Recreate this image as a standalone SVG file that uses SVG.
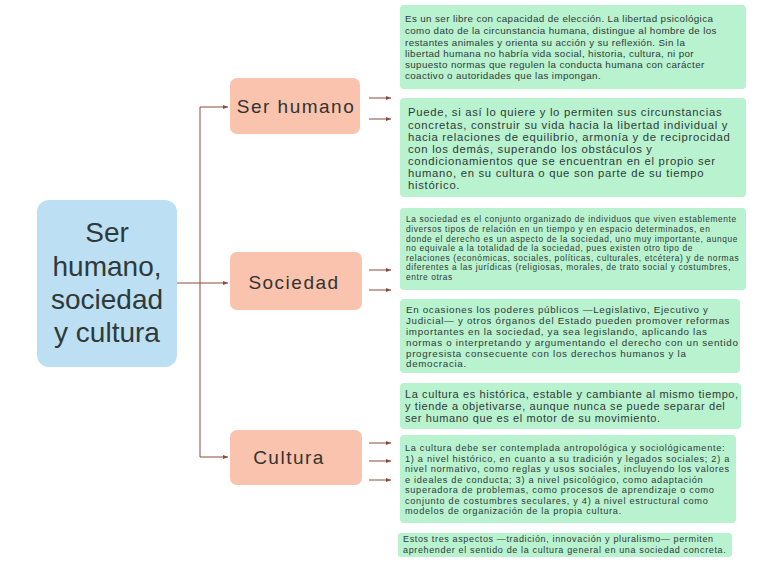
<svg xmlns="http://www.w3.org/2000/svg" width="768" height="576" viewBox="0 0 768 576">
<defs>
<marker id="ah" markerWidth="6" markerHeight="6" refX="5" refY="3" orient="auto" markerUnits="userSpaceOnUse"><path d="M0,1 L5,3 L0,5 z" fill="#8b4a3a"/></marker>
<style>
text{font-family:"Liberation Sans",Arial,sans-serif;fill:#2f3a38}
.g{fill:#b8f2cf}
.p{fill:#f9c3ad}
.c{stroke:#8b4a3a;stroke-width:1;fill:none}
.a{stroke:#8b4a3a;stroke-width:1;fill:none;marker-end:url(#ah)}
.t{font-size:19px;letter-spacing:1.5px;text-anchor:middle;fill:#333}
</style>
</defs>
<rect width="768" height="576" fill="#fff"/>
<g id="connectors">
<path class="c" d="M177,283 H200 M200,107 V457"/>
<path class="a" d="M200,107 H228"/>
<path class="a" d="M200,283 H228"/>
<path class="a" d="M200,457 H228"/>
<path class="a" d="M369,98 H391"/>
<path class="a" d="M369,119 H391"/>
<path class="a" d="M369,270 H391"/>
<path class="a" d="M369,290 H391"/>
<path class="a" d="M369,443 H391"/>
<path class="a" d="M369,461 H391"/>
<path class="a" d="M369,480 H391"/>
</g>
<g id="main">
<rect x="37" y="200" width="140" height="167" rx="12" fill="#bcdff4"/>
<text x="107" y="242" font-size="28" text-anchor="middle" fill="#333">Ser</text>
<text x="107" y="276" font-size="28" text-anchor="middle" fill="#333">humano,</text>
<text x="107" y="309" font-size="28" text-anchor="middle" fill="#333">sociedad</text>
<text x="107" y="342" font-size="28" text-anchor="middle" fill="#333">y cultura</text>
</g>
<g id="ser-humano"><rect class="p" x="230" y="78" width="130" height="56" rx="7"/><text class="t" x="296" y="113">Ser humano</text></g>
<g id="sociedad"><rect class="p" x="230" y="252" width="132" height="58" rx="7"/><text class="t" x="294" y="289">Sociedad</text></g>
<g id="cultura"><rect class="p" x="230" y="430" width="132" height="55" rx="7"/><text class="t" x="289" y="464">Cultura</text></g>
<g id="box1"><rect class="g" x="400" y="5" width="346" height="84" rx="4"/>
<text font-size="9.8" letter-spacing="0.38" x="405"><tspan x="405" y="22">Es un ser libre con capacidad de elección. La libertad psicológica</tspan><tspan x="405" y="34">como dato de la circunstancia humana, distingue al hombre de los</tspan><tspan x="405" y="46">restantes animales y orienta su acción y su reflexión. Sin la</tspan><tspan x="405" y="57">libertad humana no habría vida social, historia, cultura, ni por</tspan><tspan x="405" y="68">supuesto normas que regulen la conducta humana con carácter</tspan><tspan x="405" y="79">coactivo o autoridades que las impongan.</tspan></text></g>
<g id="box2"><rect class="g" x="400" y="98" width="346" height="99" rx="4"/>
<text font-size="11.3" letter-spacing="0.7" x="408"><tspan x="408" y="116">Puede, si así lo quiere y lo permiten sus circunstancias</tspan><tspan x="408" y="129">concretas, construir su vida hacia la libertad individual y</tspan><tspan x="408" y="141">hacia relaciones de equilibrio, armonía y de reciprocidad</tspan><tspan x="408" y="153">con los demás, superando los obstáculos y</tspan><tspan x="408" y="165">condicionamientos que se encuentran en el propio ser</tspan><tspan x="408" y="177">humano, en su cultura o que son parte de su tiempo</tspan><tspan x="408" y="189">histórico.</tspan></text></g>
<g id="box3"><rect class="g" x="400" y="208" width="346" height="82" rx="4"/>
<text font-size="8.4" letter-spacing="0.62" x="406"><tspan x="406" y="222">La sociedad es el conjunto organizado de individuos que viven establemente</tspan><tspan x="406" y="232">diversos tipos de relación en un tiempo y en espacio determinados, en</tspan><tspan x="406" y="242">donde el derecho es un aspecto de la sociedad, uno muy importante, aunque</tspan><tspan x="406" y="251">no equivale a la totalidad de la sociedad, pues existen otro tipo de</tspan><tspan x="406" y="261">relaciones (económicas, sociales, políticas, culturales, etcétera) y de normas</tspan><tspan x="406" y="270">diferentes a las jurídicas (religiosas, morales, de trato social y costumbres,</tspan><tspan x="406" y="280">entre otras</tspan></text></g>
<g id="box4"><rect class="g" x="400" y="299" width="340" height="74" rx="4"/>
<text font-size="9.8" letter-spacing="0.68" x="406"><tspan x="406" y="313">En ocasiones los poderes públicos —Legislativo, Ejecutivo y</tspan><tspan x="406" y="324">Judicial— y otros órganos del Estado pueden promover reformas</tspan><tspan x="406" y="335">importantes en la sociedad, ya sea legislando, aplicando las</tspan><tspan x="406" y="346">normas o interpretando y argumentando el derecho con un sentido</tspan><tspan x="406" y="357">progresista consecuente con los derechos humanos y la</tspan><tspan x="406" y="367">democracia.</tspan></text></g>
<g id="box5"><rect class="g" x="400" y="383" width="341" height="46" rx="4"/>
<text font-size="11" letter-spacing="0.6" x="405"><tspan x="405" y="398">La cultura es histórica, estable y cambiante al mismo tiempo,</tspan><tspan x="405" y="410">y tiende a objetivarse, aunque nunca se puede separar del</tspan><tspan x="405" y="422">ser humano que es el motor de su movimiento.</tspan></text></g>
<g id="box6"><rect class="g" x="400" y="435" width="336" height="88" rx="4"/>
<text font-size="9.2" letter-spacing="0.7" x="405"><tspan x="405" y="451">La cultura debe ser contemplada antropológica y sociológicamente:</tspan><tspan x="405" y="462">1) a nivel histórico, en cuanto a su tradición y legados sociales; 2) a</tspan><tspan x="405" y="472">nivel normativo, como reglas y usos sociales, incluyendo los valores</tspan><tspan x="405" y="483">e ideales de conducta; 3) a nivel psicológico, como adaptación</tspan><tspan x="405" y="493">superadora de problemas, como procesos de aprendizaje o como</tspan><tspan x="405" y="504">conjunto de costumbres seculares, y 4) a nivel estructural como</tspan><tspan x="405" y="514">modelos de organización de la propia cultura.</tspan></text></g>
<g id="box7"><rect class="g" x="398" y="533" width="334" height="24" rx="3"/>
<text font-size="9" letter-spacing="0.64" x="403"><tspan x="403" y="542">Estos tres aspectos —tradición, innovación y pluralismo— permiten</tspan><tspan x="403" y="553">aprehender el sentido de la cultura general en una sociedad concreta.</tspan></text></g>
</svg>
